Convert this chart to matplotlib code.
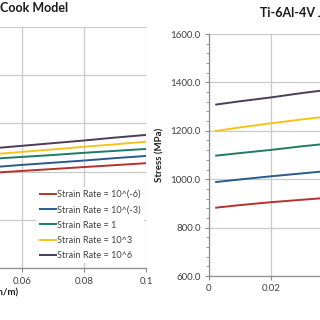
import matplotlib
matplotlib.use("Agg")
import matplotlib.pyplot as plt
from matplotlib.ticker import AutoMinorLocator, FuncFormatter

plt.rcParams['font.family'] = ['Lato', 'DejaVu Sans']

# ---------------- data ----------------
series_labels = ["Strain Rate = 10^(-6)", "Strain Rate = 10^(-3)", "Strain Rate = 1",
                 "Strain Rate = 10^3", "Strain Rate = 10^6"]
series_colors = ["#b5322c", "#2a5a8c", "#1e7c62", "#f7c21c", "#4a3d58"]

# left panel (only the right part is visible in the crop)
left_strain = [0.05, 0.06, 0.07, 0.08, 0.09, 0.10]
left_r_m6 = [995, 1003, 1011, 1019, 1027, 1035]
left_r_m3 = [1018, 1028, 1037, 1046, 1056, 1065]
left_r_0 = [1053, 1061, 1069, 1078, 1086, 1094]
left_r_p3 = [1071, 1082, 1092, 1103, 1113, 1124]
left_r_p6 = [1096, 1107, 1118, 1129, 1141, 1152]

# right panel: Ti-6Al-4V (only the left part is visible in the crop)
right_strain = [0.002, 0.01, 0.02, 0.03, 0.04]
right_r_m6 = [882, 893, 905, 915, 925]
right_r_m3 = [988, 999, 1012, 1024, 1036]
right_r_0 = [1097, 1108, 1121, 1136, 1149]
right_r_p3 = [1199, 1214, 1231, 1247, 1262]
right_r_p6 = [1308, 1322, 1338, 1356, 1372]

x_ticks = [0, 0.02, 0.04, 0.06, 0.08, 0.1]
y_ticks = [600, 800, 1000, 1200, 1400, 1600]

left_title = "Cook Model"
right_title = "Ti-6Al-4V Johnson-Cook Model"
x_label = "Strain (m/m)"
y_label = "Stress (MPa)"

# ---------------- figure ----------------
fig = plt.figure(figsize=(3.2, 3.2), dpi=100)
W = H = 320.0

def axes_px(x0, x1, ytop, ybot):
    return [x0 / W, 1 - ybot / H, (x1 - x0) / W, (ybot - ytop) / H]

axL = fig.add_axes(axes_px(-164, 146, 26.7, 268.3))
axR = fig.add_axes(axes_px(209, 519, 34, 276))

grid_c = "#c9c9c9"
spine_c = "#8c8c8c"
text_c = "#404040"

# only label the ticks that fall inside the visible crop
xfmt_L = FuncFormatter(lambda v, p: ("%g" % round(v, 4)) if v > 0.05 else "")
xfmt_R = FuncFormatter(lambda v, p: ("%g" % round(v, 4)) if v < 0.035 else "")
yfmt = FuncFormatter(lambda v, p: "%.1f" % v)

for ax, xs, ys_list, xfmt in [
    (axL, left_strain, [left_r_m6, left_r_m3, left_r_0, left_r_p3, left_r_p6], xfmt_L),
    (axR, right_strain, [right_r_m6, right_r_m3, right_r_0, right_r_p3, right_r_p6], xfmt_R),
]:
    for ys, c, lab in zip(ys_list, series_colors, series_labels):
        ax.plot(xs, ys, color=c, lw=1.4, label=lab, solid_capstyle='butt', zorder=3)
    ax.set_xlim(0, 0.1)
    ax.set_ylim(600, 1600)
    ax.set_xticks(x_ticks)
    ax.set_yticks(y_ticks)
    ax.yaxis.set_minor_locator(AutoMinorLocator(5))
    ax.xaxis.set_major_formatter(xfmt)
    ax.yaxis.set_major_formatter(yfmt)
    ax.grid(True, which='major', color=grid_c, lw=0.9, zorder=0)
    ax.set_axisbelow(True)
    for s in ['top', 'right']:
        ax.spines[s].set_visible(False)
    for s in ['left', 'bottom']:
        ax.spines[s].set_color(spine_c)
        ax.spines[s].set_linewidth(0.9)
    ax.tick_params(axis='both', which='major', direction='out', length=3, width=0.8,
                   color=spine_c, labelsize=7, labelcolor=text_c, pad=3)
    ax.tick_params(axis='y', which='minor', direction='out', length=2, width=0.6,
                   color=spine_c)

# left panel: its y axis lies outside the crop
axL.tick_params(axis='y', labelleft=False)
axL.set_xlabel(x_label, fontsize=7, fontweight='bold', color='#202020', labelpad=2)
axR.set_ylabel(y_label, fontsize=7, fontweight='bold', color='#202020', labelpad=4)

# titles
fig.text(0 / W, 1 - 11.5 / H, left_title, ha='left', va='baseline',
         fontsize=9, fontweight='bold', color='#1a1a1a')
fig.text(260 / W, 1 - 17 / H, right_title, ha='left', va='baseline',
         fontsize=9, fontweight='bold', color='#1a1a1a')

leg = axL.legend(loc='center', bbox_to_anchor=((90 + 164) / 310, (268.3 - 225) / 241.6),
                 fontsize=6.6, frameon=True, facecolor='white', edgecolor='none',
                 framealpha=1, handlelength=2.0, handletextpad=0.0, labelspacing=0.68,
                 borderpad=0.3)
for t in leg.get_texts():
    t.set_color(text_c)

fig.savefig("out.png", dpi=100)
